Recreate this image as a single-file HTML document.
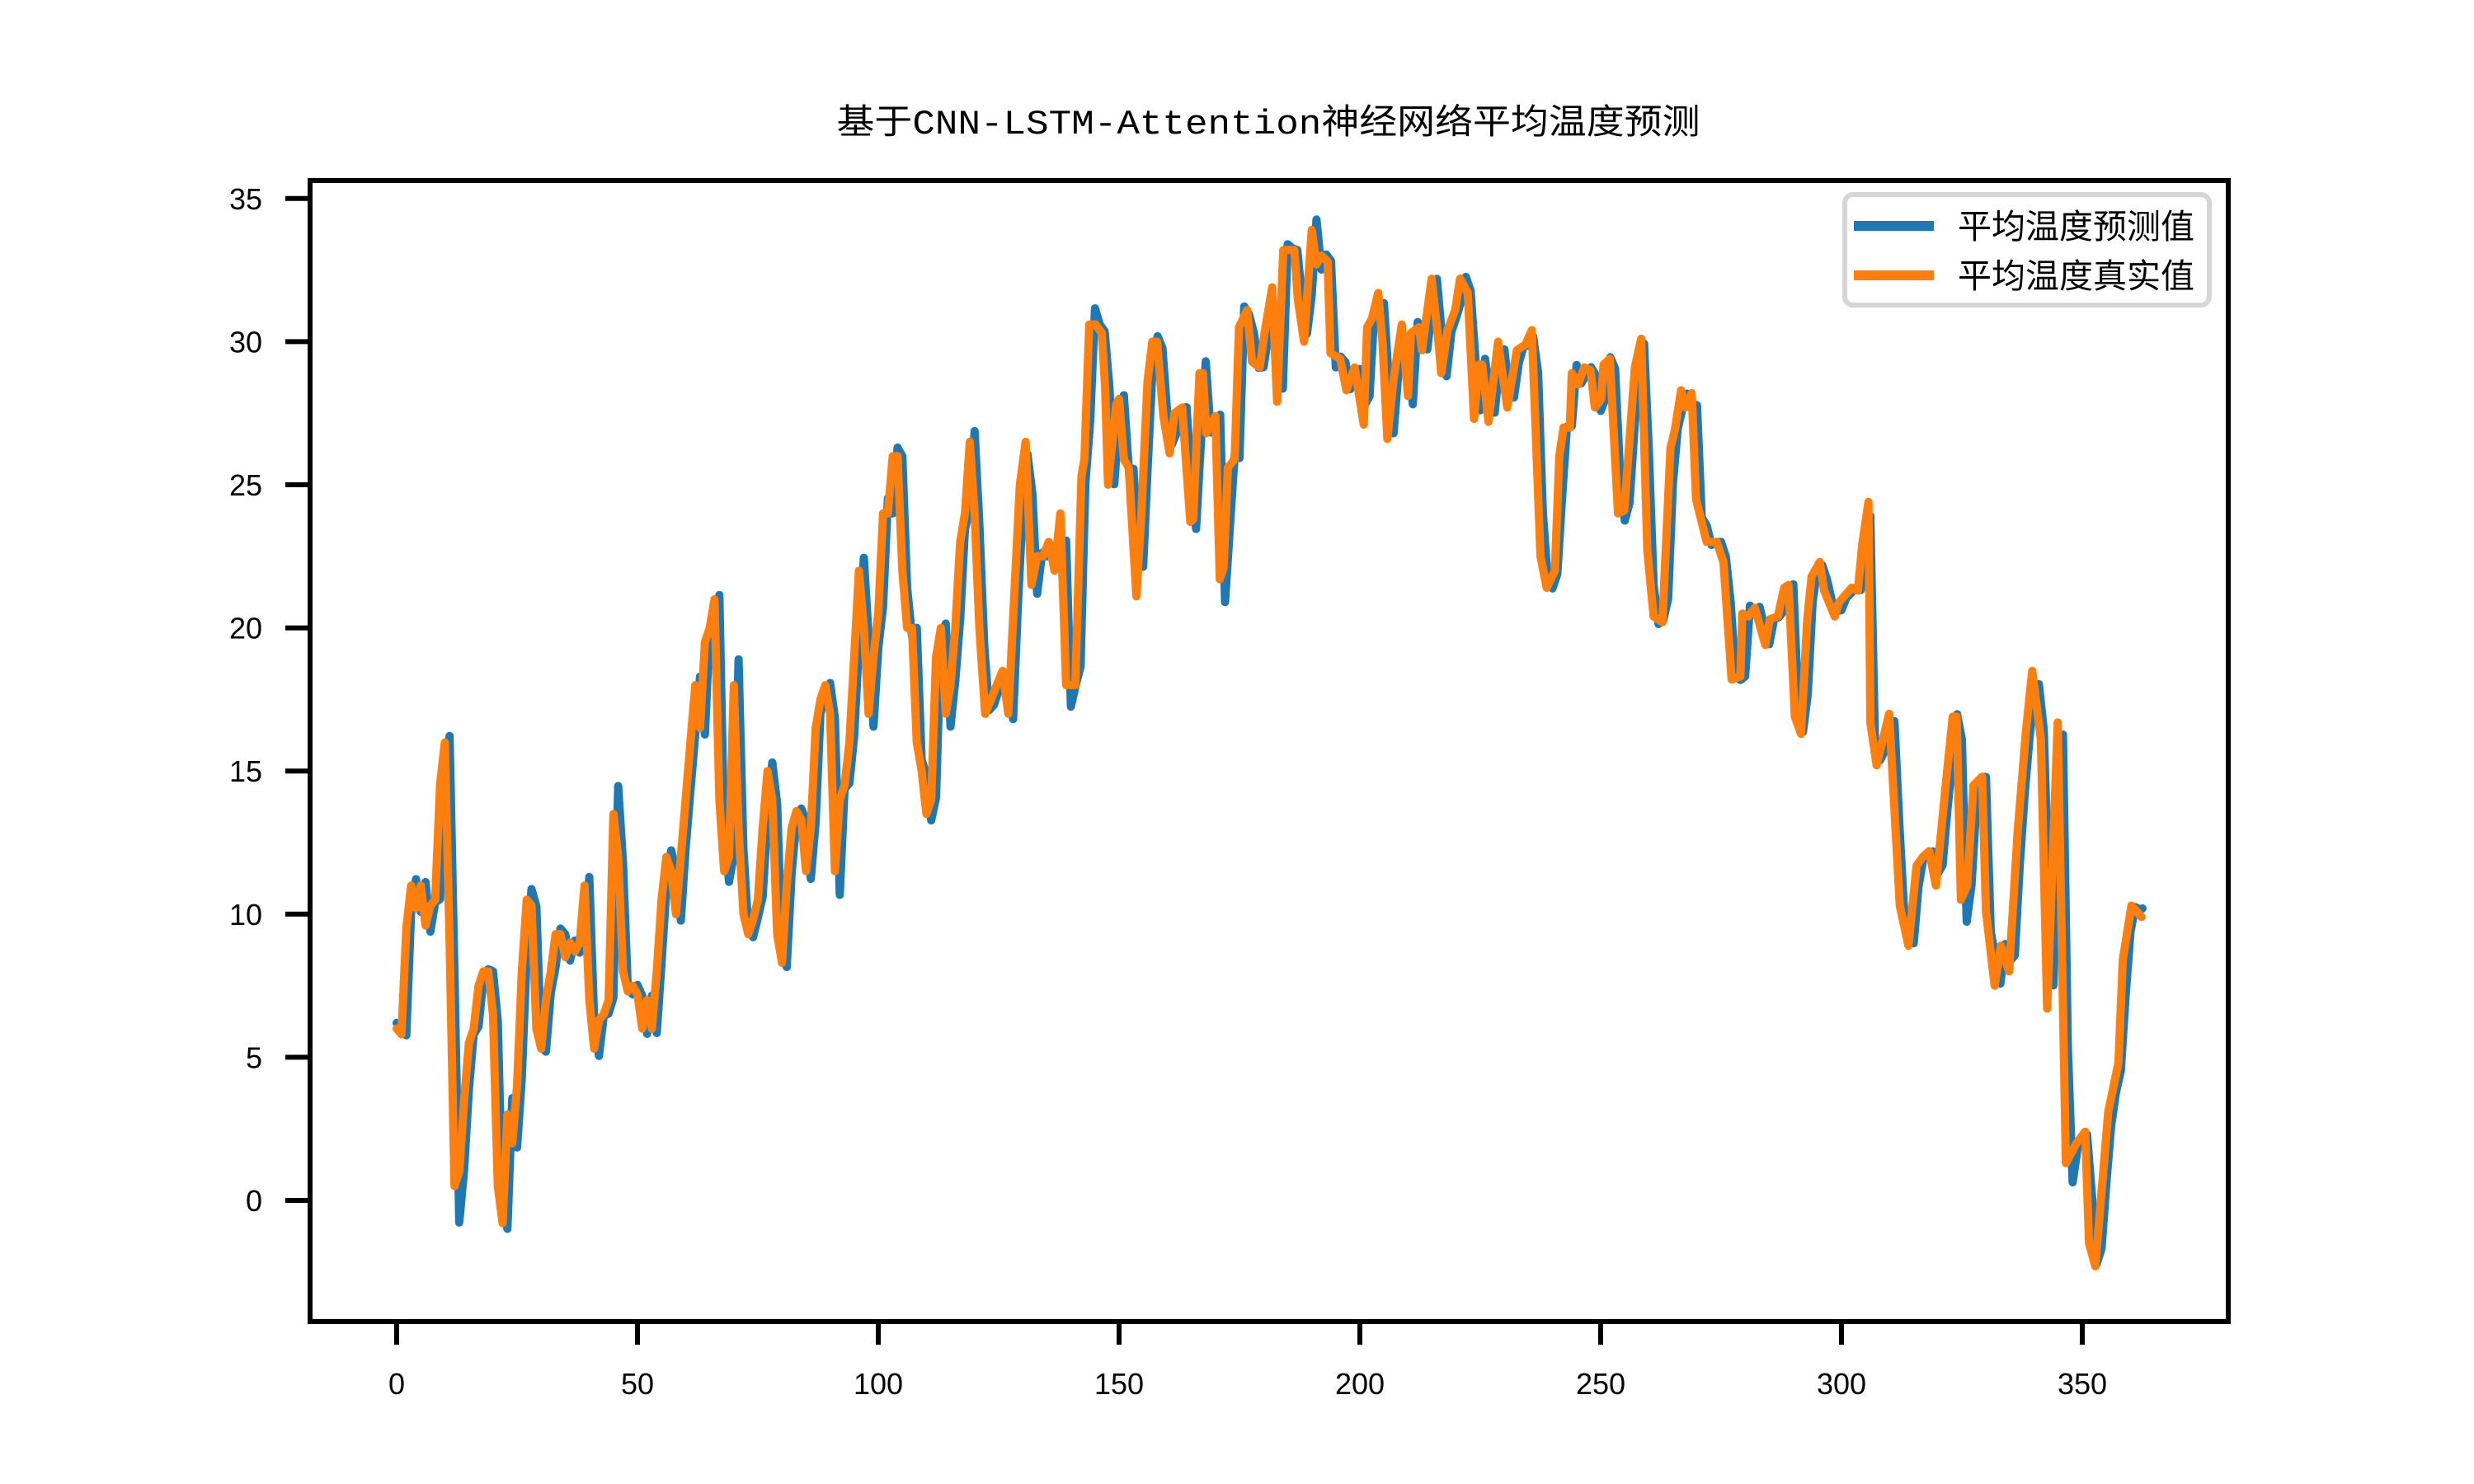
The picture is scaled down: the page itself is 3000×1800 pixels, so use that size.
<!DOCTYPE html>
<html><head><meta charset="utf-8"><style>
html,body{margin:0;padding:0;background:#fff;}
svg{display:block}
</style></head><body>
<svg id="s" width="3000" height="1800" xmlns="http://www.w3.org/2000/svg">
<rect width="3000" height="1800" fill="#fff"/>
<text x="1538" y="162" font-family="'Liberation Mono','Noto Sans CJK SC',monospace" font-size="42" text-anchor="middle" textLength="1047" lengthAdjust="spacingAndGlyphs">基于CNN-LSTM-Attention神经网络平均温度预测</text>
<g id="plot"></g>
<rect x="376" y="219" width="2326" height="1384" fill="none" stroke="#000" stroke-width="6"/>
<g id="ticks" font-family="'Liberation Sans',sans-serif" font-size="36"></g>
<rect x="2237" y="236" width="442" height="134" rx="10" fill="#fff" stroke="#d6d6d6" stroke-width="6"/>
<line x1="2248" y1="274" x2="2345" y2="274" stroke="#1f77b4" stroke-width="12"/>
<line x1="2248" y1="334" x2="2345" y2="334" stroke="#ff7f0e" stroke-width="12"/>
<text x="2374" y="289" font-family="'Liberation Sans','Noto Sans CJK SC',sans-serif" font-size="41">平均温度预测值</text>
<text x="2374" y="349" font-family="'Liberation Sans','Noto Sans CJK SC',sans-serif" font-size="41">平均温度真实值</text>
</svg>
<script>
var NS="http://www.w3.org/2000/svg";
function X(v){return 481+5.84*v;}
function Y(t){return 1456-34.72*t;}
var o=[6,5.8,9.5,11,10.2,11,9.6,10.3,10.5,14.5,16,9,0.5,1,3.5,5.5,6,7.5,8,8,6.5,0.5,-0.8,3,2,4,8,10.5,10.3,6,5.3,7,8,9.3,9.3,8.5,9,8.7,9,11,7,5.3,6.3,6.5,7,13.5,12,8,7.3,7.5,7.2,6,7,6,8,10.5,12,11.5,10,12,14,16,18,16.5,19.5,20,21,14,11.5,12,18,13,10,9.3,9.8,10.5,13,15,14,9.3,8.3,11,13,13.6,13.3,11.5,13,16.5,17.5,18,17,11.5,14,14.5,16,19,22,20,17,19,20.5,24,24,26,26,22,20,20,16,15,13.5,14,19,20,17,18,20,23,24,26.5,24,20,17,17.5,18,18.5,17,21,25,26.5,21.5,22.5,22.5,23,22,24,18];
function mapI(i){return i<=121?i:121+(i-121)*24/20;}
var pts=[];
for(var i=0;i<=136;i++)pts.push([mapI(i),o[i]]);
var late=[[140.9,18.0],[142.2,25.3],[142.8,25.9],[143.8,30.6],[145.1,30.6],[146.4,30.3],[147.1,28.4],[147.7,25.0],[149.4,27.8],[150.0,28.0],[151.0,25.9],[152.0,25.6],[153.6,21.1],[154.6,23.9],[155.9,28.6],[156.9,30.0],[157.9,30.0],[159.2,27.4],[160.5,26.1],[161.5,27.5],[163.1,27.7],[164.8,23.7],[165.4,23.8],[166.7,28.9],[167.4,28.9],[168.1,26.8],[170.0,27.4],[170.9,21.7],[171.7,22.1],[172.6,25.6],[174.0,25.9],[174.9,30.5],[176.6,31.1],[177.6,29.3],[179.2,29.1],[180.2,30.3],[181.8,31.9],[182.8,27.9],[184.1,33.2],[186.4,33.2],[187.1,31.5],[188.4,30.0],[190.0,33.9],[191.0,32.7],[192.0,33.0],[193.3,32.8],[193.9,29.6],[195.9,29.4],[197.2,28.3],[198.9,29.1],[200.8,27.1],[201.5,30.5],[202.5,30.8],[203.8,31.7],[204.7,30.0],[205.7,26.6],[207.0,28.7],[208.7,30.6],[210.0,28.1],[210.6,30.3],[212.3,30.5],[212.9,29.7],[214.9,32.2],[216.2,30.2],[216.9,28.9],[218.2,30.4],[219.8,31.1],[220.8,32.2],[222.4,31.7],[223.7,27.3],[224.7,29.2],[225.4,29.2],[226.7,27.2],[228.7,30.0],[230.6,27.7],[232.6,29.7],[234.4,29.9],[235.7,30.4],[237.5,22.5],[238.8,21.4],[240.5,22.0],[241.4,26.0],[242.3,27.0],[243.6,27.0],[244.0,28.9],[245.3,28.5],[246.6,29.1],[247.9,29.0],[248.8,27.7],[250.1,28.0],[250.6,29.2],[251.9,29.4],[253.6,24.0],[254.9,24.1],[257.1,29.1],[258.4,30.1],[259.7,22.7],[261.0,20.4],[262.8,20.2],[264.5,26.3],[265.4,26.9],[266.7,28.3],[267.6,27.7],[268.9,28.2],[269.8,24.5],[272.0,23.0],[274.1,23.0],[275.5,22.3],[277.2,18.2],[279.0,18.3],[279.4,20.5],[280.7,20.4],[282.0,20.7],[284.2,19.4],[285.1,20.3],[286.8,20.4],[288.1,21.4],[289.0,21.5],[290.3,16.9],[291.6,16.3],[292.9,20.3],[293.8,21.8],[295.5,22.3],[296.4,21.3],[298.6,20.4],[299.5,20.9],[302.1,21.4],[303.4,21.3],[304.3,22.9],[305.6,24.4],[306.0,16.7],[307.3,15.2],[309.9,17.0],[312.1,10.3],[313.9,8.9],[315.6,11.7],[316.9,12.0],[318.2,12.2],[319.6,11.0],[321.7,14.6],[323.1,16.9],[323.9,16.9],[324.8,10.5],[326.1,11.0],[327.4,14.5],[329.2,14.8],[330.0,10.1],[331.8,7.5],[333.1,8.9],[334.8,8.0],[336.6,12.9],[338.3,16.4],[339.6,18.5],[341.4,16.1],[342.7,6.7],[344.9,16.7],[346.6,1.3],[348.8,2.0],[350.6,2.4],[351.4,-1.5],[352.7,-2.3],[354.5,1.3],[355.4,3.1],[357.5,4.8],[358.4,8.4],[360.2,10.3],[362.3,9.9]];
pts=pts.concat(late);
function f(v){if(v<=pts[0][0])return pts[0][1];for(var k=0;k<pts.length-1;k++){if(v<=pts[k+1][0]){var a=pts[k],b=pts[k+1];var r=(v-a[0])/((b[0]-a[0])||1);return a[1]+r*(b[1]-a[1]);}}return pts[pts.length-1][1];}
var pred=[[0,6.2]];
for(var v=1;v<=362;v++){var p=f(v-1),q=f(v-2);pred.push([v,p+0.15*(p-q)]);}
pred.push([362.5,10.2]);
function path(arr){return arr.map(function(a,i){return (i?"L":"M")+X(a[0]).toFixed(1)+" "+Y(a[1]).toFixed(1);}).join("");}
var g=document.getElementById("plot");
[[pred,"#1f77b4"],[pts,"#ff7f0e"]].forEach(function(s){var p=document.createElementNS(NS,"path");p.setAttribute("d",path(s[0]));p.setAttribute("fill","none");p.setAttribute("stroke",s[1]);p.setAttribute("stroke-width","10");p.setAttribute("stroke-linejoin","round");p.setAttribute("stroke-linecap","round");g.appendChild(p);});
var tk=document.getElementById("ticks");
for(var t=0;t<=35;t+=5){var y=Y(t);var l=document.createElementNS(NS,"line");l.setAttribute("x1",346);l.setAttribute("x2",376);l.setAttribute("y1",y);l.setAttribute("y2",y);l.setAttribute("stroke","#000");l.setAttribute("stroke-width","6");tk.appendChild(l);var tx=document.createElementNS(NS,"text");tx.setAttribute("x",318);tx.setAttribute("y",y+13);tx.setAttribute("text-anchor","end");tx.textContent=t;tk.appendChild(tx);}
for(var v=0;v<=350;v+=50){var x=X(v);var l=document.createElementNS(NS,"line");l.setAttribute("x1",x);l.setAttribute("x2",x);l.setAttribute("y1",1603);l.setAttribute("y2",1631);l.setAttribute("stroke","#000");l.setAttribute("stroke-width","6");tk.appendChild(l);var tx=document.createElementNS(NS,"text");tx.setAttribute("x",x);tx.setAttribute("y",1691);tx.setAttribute("text-anchor","middle");tx.textContent=v;tk.appendChild(tx);}
</script>
</body></html>
